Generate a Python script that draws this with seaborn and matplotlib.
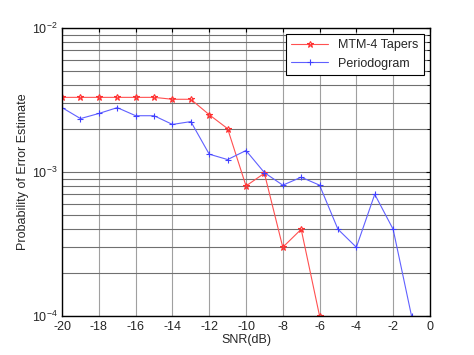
import numpy as np
import pandas as pd
import matplotlib
matplotlib.use("Agg")
import matplotlib.pyplot as plt
import seaborn as sns

# values
snr_mtm = [-20, -19, -18, -17, -16, -15, -14, -13, -12, -11, -10, -9, -8, -7, -6]
p_mtm = [3.3e-3, 3.3e-3, 3.3e-3, 3.3e-3, 3.3e-3, 3.3e-3, 3.2e-3, 3.2e-3,
         2.5e-3, 2.0e-3, 8.0e-4, 9.8e-4, 3.0e-4, 4.0e-4, 1.0e-4]

snr_per = [-20, -19, -18, -17, -16, -15, -14, -13, -12, -11, -10,
           -9, -8, -7, -6, -5, -4, -3, -2, -1]
p_per = [2.8e-3, 2.35e-3, 2.55e-3, 2.8e-3, 2.46e-3, 2.46e-3, 2.14e-3, 2.24e-3,
         1.33e-3, 1.22e-3, 1.41e-3, 9.9e-4, 8.1e-4, 9.2e-4, 8.1e-4,
         4.0e-4, 3.0e-4, 7.0e-4, 4.0e-4, 1.0e-4]

sns.set_style("white")
plt.rcParams['font.family'] = ['Liberation Sans', 'DejaVu Sans']

fig = plt.figure(figsize=(4.74, 3.55), dpi=100)
ax = fig.add_axes([0.131, 0.110, 0.776, 0.811])

df_mtm = pd.DataFrame({"snr": snr_mtm, "p": p_mtm})
df_per = pd.DataFrame({"snr": snr_per, "p": p_per})

sns.lineplot(data=df_mtm, x="snr", y="p", ax=ax, color="#ff5050", lw=0.8,
             marker="*", markersize=5, markerfacecolor="none",
             markeredgecolor="#ff3030", markeredgewidth=0.8, label="MTM-4 Tapers")
sns.lineplot(data=df_per, x="snr", y="p", ax=ax, color="#6060ff", lw=0.8,
             marker="+", markersize=4, markeredgecolor="#4040ff",
             markeredgewidth=0.8, label="Periodogram")

ax.set_yscale("log")
ax.set_xlim(-20, 0)
ax.set_ylim(1e-4, 1e-2)
ax.set_xticks(range(-20, 1, 2))
ax.set_xticklabels([str(v) for v in range(-20, 1, 2)])

ax.grid(True, which="major", axis="x", color="#a0a0a0", lw=0.8)
ax.grid(True, which="both", axis="y", color="#707070", lw=0.8)
ax.tick_params(which="both", direction="in", top=True, right=True,
               length=3, labelsize=9, color="black")
ax.tick_params(which="minor", length=2)
for s in ax.spines.values():
    s.set_color("black")
    s.set_linewidth(1.0)

ax.set_xlabel("SNR(dB)", fontsize=9, labelpad=1)
ax.set_ylabel("Probability of Error Estimate", fontsize=9, labelpad=2)

leg = ax.legend(loc="upper right", fontsize=9, fancybox=False, framealpha=1,
                edgecolor="black", borderaxespad=0.5, handlelength=3)
leg.get_frame().set_linewidth(0.8)

fig.savefig("out.png", dpi=100)
